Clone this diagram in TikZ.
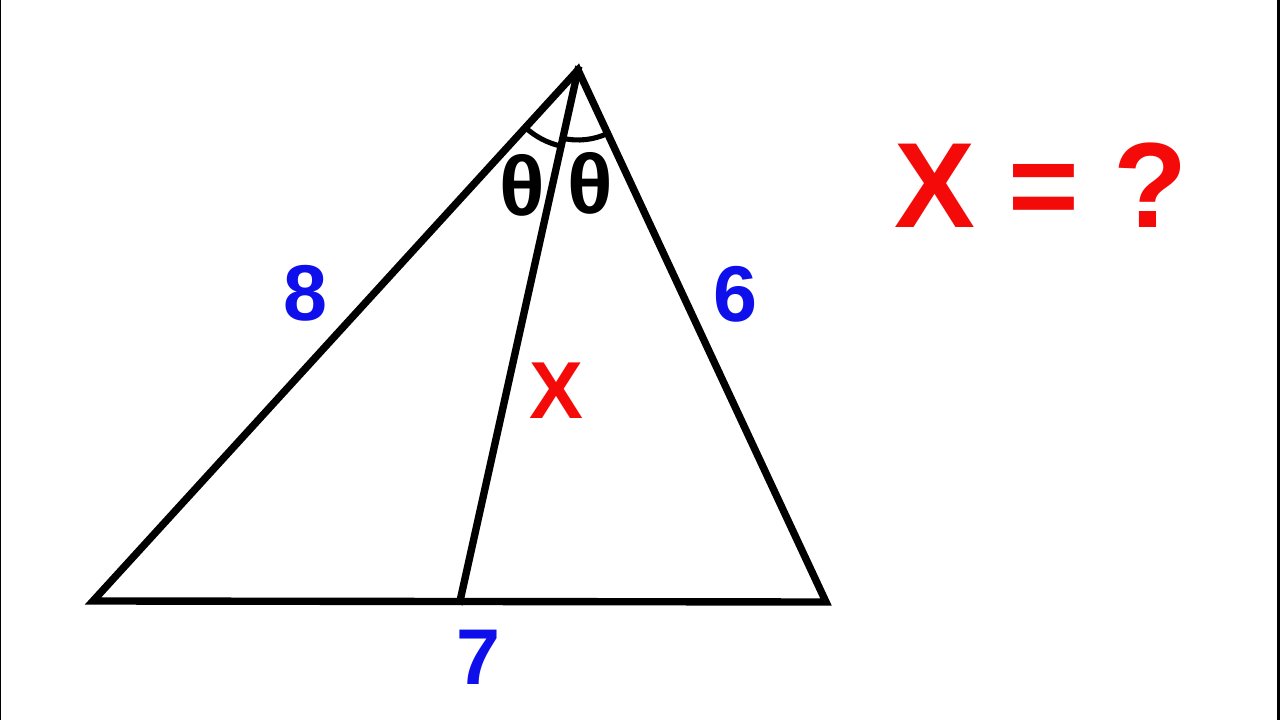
\documentclass[tikz,border=0pt]{standalone}
\usepackage{fontspec}
\setmainfont{Liberation Sans}
\definecolor{lblue}{RGB}{15,15,235}
\definecolor{lred}{RGB}{245,10,10}
\tikzset{
  edge/.style={line width=4.2pt, line join=miter, line cap=rect},
  arcline/.style={line width=2.9pt},
  sidelab/.style={font=\fontsize{45}{45}\selectfont\bfseries, text=lblue, inner sep=0pt},
  anglab/.style={font=\fontsize{48}{48}\selectfont\bfseries, text=black, inner sep=0pt},
  redlab/.style={font=\fontsize{46}{46}\selectfont\bfseries, text=lred, inner sep=0pt},
}
\begin{document}
\begin{tikzpicture}[x=0.02cm,y=0.02cm]
\useasboundingbox (0,0) rectangle (1280,720);
\fill[white] (0,0) rectangle (1280,720);
\draw[line width=1pt] (0.5,0) -- (0.5,720);
\draw[line width=1.2pt] (1278.5,0) -- (1278.5,720);
\coordinate (A) at (578,650);
\coordinate (B) at (93,119);
\coordinate (C) at (826,118);
\coordinate (D) at (460,119);
\draw[edge] (A) -- (B) -- (C) -- cycle;
\draw[edge] (A) -- (D);
\draw[arcline] ([shift={(227.6:78)}]A) arc[start angle=227.6, end angle=257.5, radius=78];
\draw[arcline] ([shift={(257.5:70)}]A) arc[start angle=257.5, end angle=295, radius=70];
\node[anglab] (t1) at (522,535) {θ};
\node[anglab] (t2) at (590,537) {θ};
\node[sidelab] (l8) at (305,427) {8};
\node[sidelab] (l6) at (735,426) {6};
\node[sidelab] (l7) at (478,63) {7};
\node[redlab] (lx) at (556,329) {X};
\node[font=\fontsize{69}{69}\selectfont\bfseries, text=lred, inner sep=0pt] (q) at (1041,535) {X = ?};
\end{tikzpicture}
\end{document}
